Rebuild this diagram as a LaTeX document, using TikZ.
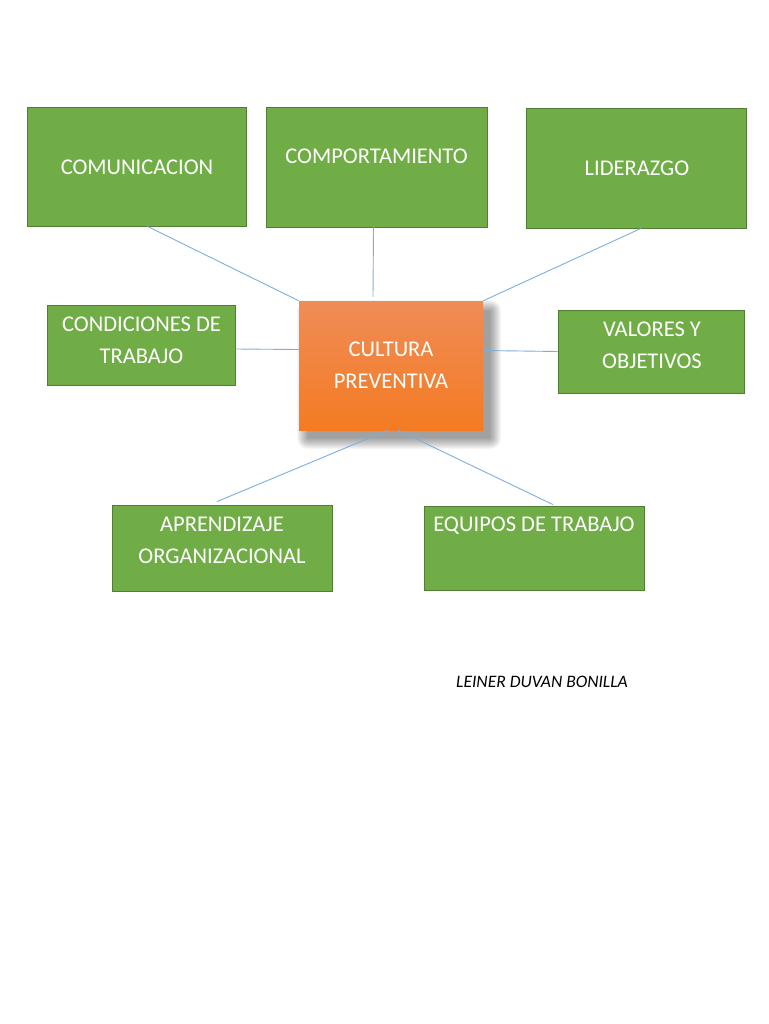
\documentclass[tikz,border=0pt]{standalone}
\usepackage{fontspec}
\setmainfont{Carlito}

\definecolor{boxgreen}{HTML}{70AD47}
\definecolor{boxedge}{HTML}{507E32}
\definecolor{topor}{HTML}{EF8C57}
\definecolor{botor}{HTML}{F47B22}
\definecolor{linkblue}{HTML}{7FAEDC}

\tikzset{
  gbox/.style={rectangle,fill=boxgreen,draw=boxedge,line width=.8pt,inner sep=0pt},
  label/.style={text=white,align=center,font=\fontsize{22.5}{32}\selectfont}
}

\begin{document}
\begin{tikzpicture}[x=1pt,y=-1pt]

      \useasboundingbox[fill=white] (0,0) rectangle (768,1024);

      \begin{scope}[every node/.style={gbox}]
        \node[minimum width=219,minimum height=119] (1) at (136.5,166.5) {};
        \node[minimum width=221,minimum height=120] (2) at (376.5,167) {};
        \node[minimum width=220,minimum height=120] (3) at (636,168) {};
        \node[minimum width=188,minimum height=80]  (4) at (141,345) {};
        \node[minimum width=186,minimum height=83]  (5) at (651,351.5) {};
        \node[minimum width=220,minimum height=86]  (6) at (222,548) {};
        \node[minimum width=220,minimum height=84]  (7) at (534,548) {};
      \end{scope}

      % sombra del centro
      \foreach \s in {0,1,...,11}
        \fill[black,opacity=.035,rounded corners=\s]
          (391-92+9-\s,365.5-64.5+10-\s) rectangle (391+92+7+\s,365.5+64.5+8+\s);

      % centro
      \node[rectangle,minimum width=184,minimum height=129,inner sep=0pt,
            top color=topor,bottom color=botor] (0) at (391,365.5) {};

      \begin{scope}[every node/.style={label}]
        \node (t0) at (391,365) {CULTURA\\PREVENTIVA};
        \node (t1) at (137,167) {COMUNICACION};
        \node (t2) at (376.5,156) {COMPORTAMIENTO};
        \node (t3) at (637,168) {LIDERAZGO};
        \node (t4) at (141.5,340) {CONDICIONES DE\\TRABAJO};
        \node (t5) at (652,345.5) {VALORES Y\\OBJETIVOS};
        \node (t6) at (222,540) {APRENDIZAJE\\ORGANIZACIONAL};
        \node (t7) at (534,526) {EQUIPOS DE TRABAJO};
      \end{scope}

      \begin{scope}[every edge/.style={draw=linkblue,line width=.9pt}]
        \path ([xshift=11]1.south) edge (0.north west);
        \path ([xshift=-3]2.south) edge ([xshift=-18,yshift=4]0.north);
        \path ([xshift=5]3.south) edge (0.north east);
        \path ([yshift=-4]4.east) edge ([yshift=16]0.west);
        \path ([yshift=15]0.east) edge (5.west);
        \path ([xshift=-3]0.south) edge ([xshift=-5,yshift=3]6.north);
        \path ([xshift=7]0.south) edge ([xshift=19,yshift=1]7.north);
      \end{scope}

      \node[font=\fontsize{17.5}{20}\selectfont\itshape] (autor) at (542,682) {LEINER DUVAN BONILLA};

    \end{tikzpicture}
\end{document}
